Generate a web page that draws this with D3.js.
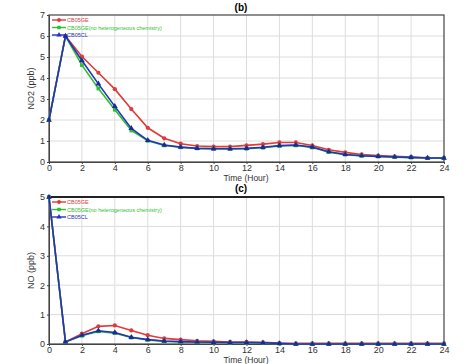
<!DOCTYPE html>
<html>
<head>
<meta charset="utf-8">
<script src="https://cdn.jsdelivr.net/npm/d3@7"></script>
<style>
  body { margin: 0; background: #fff; }
  svg text { font-family: "Liberation Sans", Arial, sans-serif; }
</style>
</head>
<body>
<div id="chart"></div>
<script>
// hours on the x axis
var hours = d3.range(0, 25);
var xTicks = [0, 2, 4, 6, 8, 10, 12, 14, 16, 18, 20, 22, 24];
var seriesNames = ["CB05GE", "CB05GE(no heterogeneous chemistry)", "CB05CL"];

// panel (b) NO2
var no2GE   = [2, 6, 5.02, 4.25, 3.47, 2.52, 1.63, 1.13, 0.87, 0.76, 0.73, 0.73, 0.79, 0.85, 0.93, 0.93, 0.79, 0.58, 0.46, 0.36, 0.31, 0.27, 0.24, 0.2, 0.19];
var no2NoHet = [2, 6, 4.61, 3.5, 2.49, 1.5, 1.01, 0.79, 0.7, 0.65, 0.63, 0.62, 0.63, 0.68, 0.76, 0.79, 0.69, 0.47, 0.35, 0.29, 0.26, 0.23, 0.21, 0.19, 0.18];
var no2CL   = [2, 6, 4.83, 3.72, 2.65, 1.6, 1.03, 0.81, 0.71, 0.65, 0.63, 0.63, 0.65, 0.7, 0.78, 0.81, 0.71, 0.49, 0.36, 0.3, 0.27, 0.24, 0.22, 0.19, 0.19];

// panel (c) NO
var noGE    = [5, 0.07, 0.35, 0.6, 0.63, 0.46, 0.3, 0.19, 0.15, 0.11, 0.09, 0.07, 0.07, 0.06, 0.03, 0.02, 0.02, 0.02, 0.02, 0.02, 0.02, 0.02, 0.02, 0.02, 0.02];
var noNoHet = [5, 0.07, 0.28, 0.43, 0.37, 0.22, 0.14, 0.09, 0.07, 0.06, 0.05, 0.04, 0.04, 0.03, 0.01, 0, 0, 0, 0, 0, 0, 0, 0, 0, 0];
var noCL    = [5, 0.07, 0.3, 0.45, 0.39, 0.23, 0.15, 0.1, 0.08, 0.07, 0.06, 0.05, 0.05, 0.04, 0.02, 0, 0, 0, 0, 0, 0, 0, 0, 0, 0];

var colors = ["#e03a3a", "#2fbf2f", "#2233c0"];
var shapes = [d3.symbolCircle, d3.symbolSquare, d3.symbolTriangle];

var svg = d3.select("#chart").append("svg")
    .attr("width", 474)
    .attr("height", 364);

var xScale = d3.scaleLinear().domain([0, 24]).range([49, 444]);

function drawPanel(opts) {
    var yScale = d3.scaleLinear().domain([0, opts.ymax]).range([opts.bottom, opts.top]);
    var g = svg.append("g");

    // grid
    g.selectAll(".vgrid").data(xTicks.slice(1, -1)).enter().append("line")
        .attr("x1", d => xScale(d)).attr("x2", d => xScale(d))
        .attr("y1", opts.top).attr("y2", opts.bottom)
        .attr("stroke", "#dcdcdc").attr("stroke-width", 1);
    g.selectAll(".hgrid").data(d3.range(1, opts.ymax)).enter().append("line")
        .attr("x1", xScale(0)).attr("x2", xScale(24))
        .attr("y1", d => yScale(d)).attr("y2", d => yScale(d))
        .attr("stroke", "#dcdcdc").attr("stroke-width", 1);

    // frame
    g.append("rect")
        .attr("x", xScale(0)).attr("y", opts.top)
        .attr("width", xScale(24) - xScale(0)).attr("height", opts.bottom - opts.top)
        .attr("fill", "none").attr("stroke", "#444").attr("stroke-width", 1.2);
    if (opts.thickTop) {
        g.append("line").attr("x1", xScale(0)).attr("x2", xScale(24))
            .attr("y1", opts.top).attr("y2", opts.top)
            .attr("stroke", "#222").attr("stroke-width", 2);
    }

    // axes
    var xAxis = d3.axisBottom(xScale).tickValues(xTicks).tickSize(2).tickPadding(1).tickSizeOuter(0);
    var yAxis = d3.axisLeft(yScale).ticks(opts.ymax).tickSize(2).tickPadding(2).tickSizeOuter(0);
    var gx = g.append("g").attr("transform", `translate(0, ${opts.bottom})`).call(xAxis);
    var gy = g.append("g").attr("transform", `translate(${xScale(0)}, 0)`).call(yAxis);
    [gx, gy].forEach(function(a) {
        a.select(".domain").attr("stroke", "#444");
        a.selectAll(".tick line").attr("stroke", "#444");
        a.selectAll("text").style("font-size", "9px").attr("fill", "#333");
    });

    // series lines and markers
    opts.series.forEach(function(vals, i) {
        var line = d3.line().x((d, j) => xScale(hours[j])).y(d => yScale(d));
        g.append("path").datum(vals)
            .attr("d", line)
            .attr("fill", "none")
            .attr("stroke", colors[i])
            .attr("stroke-width", 1.6);
        g.selectAll(".pt" + i).data(vals).enter().append("path")
            .attr("d", d3.symbol().type(shapes[i]).size(14))
            .attr("transform", (d, j) => `translate(${xScale(hours[j])}, ${yScale(d)})`)
            .attr("fill", i === 2 ? "#1a2a9a" : colors[i]);
    });

    // legend
    seriesNames.forEach(function(name, i) {
        var ly = opts.legendTop + i * 7.5;
        g.append("line").attr("x1", 52).attr("x2", 66).attr("y1", ly).attr("y2", ly)
            .attr("stroke", colors[i]).attr("stroke-width", 1.4);
        g.append("path").attr("d", d3.symbol().type(shapes[i]).size(12))
            .attr("transform", `translate(59, ${ly})`).attr("fill", colors[i]);
        g.append("text").attr("x", 67).attr("y", ly + 2)
            .style("font-size", "5.5px").attr("fill", colors[i]).text(name);
    });

    // titles
    g.append("text").attr("x", 241).attr("y", opts.titleY)
        .attr("text-anchor", "middle").style("font-size", "10px").style("font-weight", "bold")
        .text(opts.title);
    g.append("text").attr("x", 246).attr("y", opts.bottom + 19)
        .attr("text-anchor", "middle").style("font-size", "8.5px").attr("fill", "#333")
        .text("Time (Hour)");
    g.append("text")
        .attr("transform", `translate(34, ${(opts.top + opts.bottom) / 2}) rotate(-90)`)
        .attr("text-anchor", "middle").style("font-size", "9px").attr("fill", "#333")
        .text(opts.ylabel);
}

drawPanel({ top: 15, bottom: 162, ymax: 7, series: [no2GE, no2NoHet, no2CL],
    title: "(b)", titleY: 11, ylabel: "NO2 (ppb)", legendTop: 20, thickTop: false });
drawPanel({ top: 197, bottom: 344, ymax: 5, series: [noGE, noNoHet, noCL],
    title: "(c)", titleY: 192, ylabel: "NO (ppb)", legendTop: 202, thickTop: true });
</script>
</body>
</html>
